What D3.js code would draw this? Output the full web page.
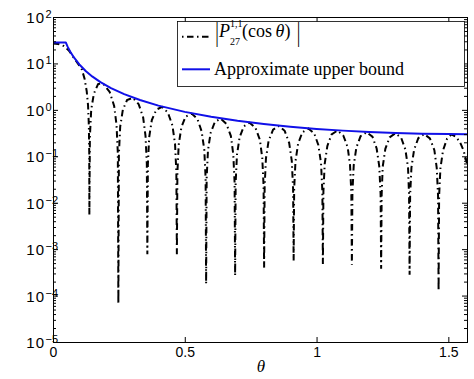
<!DOCTYPE html>
<html>
<head>
<meta charset="utf-8">
<style>
  body { margin: 0; background: #fff; }
  svg { display: block; }
  .sans { font-family: "Liberation Sans", Arial, Helvetica, sans-serif; }
  .serif { font-family: "Liberation Serif", "Times New Roman", Times, serif; }
</style>
</head>
<body>
<svg width="474" height="379"></svg>
<script src="https://d3js.org/d3.v7.min.js"></script>
<script>

// |P_27^{1,1}(cos theta)|, one lobe per line (zeros = spike bottoms)
var legendreTheta = [
  0, 0.02, 0.04, 0.06, 0.08, 0.1, 0.11, 0.12, 0.128, 0.133, 0.136, 0.1375,
  0.138,
  0.140, 0.145, 0.155, 0.171, 0.182, 0.193, 0.215, 0.232, 0.241, 0.246,
  0.248,
  0.250, 0.255, 0.265, 0.281, 0.303, 0.325, 0.342, 0.351, 0.356,
  0.358,
  0.360, 0.365, 0.375, 0.392, 0.414, 0.436, 0.453, 0.463, 0.468,
  0.470,
  0.472, 0.477, 0.487, 0.503, 0.526, 0.548, 0.564, 0.574, 0.579,
  0.581,
  0.583, 0.588, 0.598, 0.614, 0.636, 0.658, 0.675, 0.684, 0.689,
  0.691,
  0.693, 0.698, 0.708, 0.724, 0.746, 0.768, 0.785, 0.794, 0.799,
  0.801,
  0.803, 0.808, 0.818, 0.835, 0.857, 0.879, 0.896, 0.906, 0.911,
  0.913,
  0.915, 0.920, 0.930, 0.946, 0.969, 0.991, 1.007, 1.017, 1.022,
  1.024,
  1.026, 1.031, 1.041, 1.057, 1.079, 1.101, 1.118, 1.127, 1.132,
  1.134,
  1.136, 1.141, 1.151, 1.167, 1.190, 1.212, 1.228, 1.238, 1.243,
  1.245,
  1.247, 1.251, 1.261, 1.277, 1.299, 1.321, 1.337, 1.347, 1.351,
  1.353,
  1.355, 1.360, 1.370, 1.386, 1.408, 1.430, 1.447, 1.456, 1.461,
  1.463,
  1.465, 1.470, 1.480, 1.495, 1.512, 1.530, 1.545, 1.558, 1.5708
];
var legendreValue = [
  27, 26.2, 23.8, 19, 13, 9, 7.3, 4.6, 2.5, 1.25, 0.47, 0.12,
  5.4e-3,
  0.267, 1.01, 2.22, 3.6, 3.7, 3.52, 2.43, 1.22, 0.474, 0.116,
  6.7e-5,
  0.113, 0.437, 1.003, 1.63, 1.81, 1.325, 0.691, 0.275, 0.068,
  7.8e-4,
  0.0665, 0.26, 0.604, 1.012, 1.159, 0.871, 0.463, 0.186, 0.0459,
  7.8e-4,
  0.0453, 0.178, 0.42, 0.714, 0.831, 0.636, 0.343, 0.138, 0.0343,
  1.8e-4,
  0.034, 0.134, 0.318, 0.547, 0.646, 0.5, 0.272, 0.11, 0.0275,
  2.7e-4,
  0.0272, 0.1075, 0.256, 0.443, 0.529, 0.413, 0.226, 0.0918, 0.0229,
  4.0e-4,
  0.0228, 0.09, 0.215, 0.375, 0.449, 0.354, 0.195, 0.0793, 0.0198,
  5.6e-4,
  0.0197, 0.078, 0.187, 0.328, 0.395, 0.313, 0.173, 0.0706, 0.0177,
  4.8e-4,
  0.0176, 0.0696, 0.1675, 0.295, 0.357, 0.284, 0.1574, 0.0644, 0.0161,
  4.6e-4,
  0.0161, 0.0638, 0.1539, 0.271, 0.331, 0.264, 0.147, 0.0602, 0.0152,
  3.8e-4,
  0.0151, 0.0598, 0.1445, 0.2555, 0.313, 0.251, 0.14, 0.0575, 0.0144,
  2.8e-4,
  0.0144, 0.0571, 0.1384, 0.246, 0.302, 0.243, 0.1357, 0.0559, 0.014,
  1.26e-4,
  0.014, 0.0557, 0.1346, 0.2385, 0.296, 0.26, 0.196, 0.1325, 0.069
];

// approximate upper bound (blue)
var boundTheta = [0, 0.0485, 0.055, 0.065, 0.08, 0.1, 0.125, 0.15, 0.18, 0.22, 0.27, 0.33,
                  0.4, 0.5, 0.6, 0.7, 0.8, 0.9, 1.0, 1.1, 1.2, 1.3, 1.4, 1.5, 1.5708];
var boundValue = [28.3, 28.3, 23.3, 18.1, 13.3, 9.5, 6.81, 5.19, 3.96, 2.94, 2.18, 1.63,
                  1.235, 0.904, 0.707, 0.580, 0.494, 0.433, 0.389, 0.357, 0.333, 0.317, 0.307, 0.301, 0.300];

var xTicks = [0, 0.5, 1, 1.5];
var xTickLabels = ["0", "0.5", "1", "1.5"];
var yExponents = [-5, -4, -3, -2, -1, 0, 1, 2];
var boundLabel = "Approximate upper bound";

var svg = d3.select("svg"),
    width = +svg.attr("width"),
    height = +svg.attr("height"),
    margin = {top: 17, right: 7, bottom: 37, left: 53};

var x = d3.scaleLinear()
    .domain([0, Math.PI / 2])
    .range([margin.left, width - margin.right]);

var y = d3.scaleLog()
    .domain([1e-5, 1e2])
    .range([height - margin.bottom, margin.top]);

var majors = yExponents.map(function(e) { return Math.pow(10, e); });
var minors = [];
yExponents.slice(0, -1).forEach(function(e) {
  for (var k = 2; k < 10; k++) minors.push(k * Math.pow(10, e));
});

var line = d3.line()
    .x(function(d) { return x(d[0]); })
    .y(function(d) { return y(d[1]); });

// curves
svg.append("path")
    .datum(d3.zip(legendreTheta, legendreValue))
    .attr("fill", "none")
    .attr("stroke", "#000")
    .attr("stroke-width", 2)
    .attr("stroke-dasharray", "6.5,3.5,1.5,3.5")
    .attr("d", line);

svg.append("path")
    .datum(d3.zip(boundTheta, boundValue))
    .attr("fill", "none")
    .attr("stroke", "#1010e8")
    .attr("stroke-width", 2)
    .attr("stroke-linejoin", "round")
    .attr("d", line);

// axes, ticks inward on all four sides
function clean(g) {
  g.select(".domain").remove();
  g.attr("font-family", null).attr("font-size", null);
  g.selectAll(".tick line").attr("stroke", "#000");
}

svg.append("g")
    .attr("transform", "translate(0," + (height - margin.bottom) + ")")
    .call(d3.axisBottom(x).tickValues(xTicks).tickSize(-5).tickPadding(5)
      .tickFormat(function(d, i) { return xTickLabels[i]; }))
    .call(clean)
    .call(function(g) {
      g.selectAll("text").attr("class", "sans")
        .attr("font-size", 14).attr("fill", "#000");
    });

svg.append("g")
    .attr("transform", "translate(0," + margin.top + ")")
    .call(d3.axisTop(x).tickValues(xTicks).tickSize(-5).tickFormat(""))
    .call(clean);

[[d3.axisLeft, margin.left], [d3.axisRight, width - margin.right]].forEach(function(a) {
  svg.append("g")
      .attr("transform", "translate(" + a[1] + ",0)")
      .call(a[0](y).tickValues(majors).tickSize(-5).tickFormat(""))
      .call(clean);
  svg.append("g")
      .attr("transform", "translate(" + a[1] + ",0)")
      .call(a[0](y).tickValues(minors).tickSize(-3).tickFormat(""))
      .call(clean);
});

// y tick labels 10^e
var ylab = svg.append("g")
    .attr("class", "sans")
    .attr("fill", "#000");

yExponents.forEach(function(e) {
  var yy = y(Math.pow(10, e));
  ylab.append("text")
      .attr("x", 45)
      .attr("y", yy + 6)
      .attr("text-anchor", "end")
      .attr("font-size", 15)
      .attr("letter-spacing", 1)
      .text("10");
  ylab.append("text")
      .attr("x", 45.5)
      .attr("y", yy + 1)
      .attr("font-size", 11)
      .text(e < 0 ? "\u2212" + (-e) : String(e));
});

// frame
svg.append("rect")
    .attr("x", margin.left + 0.5)
    .attr("y", margin.top + 0.5)
    .attr("width", width - margin.left - margin.right)
    .attr("height", height - margin.top - margin.bottom)
    .attr("fill", "none")
    .attr("stroke", "#000");

// x label
svg.append("text")
    .attr("class", "serif")
    .attr("x", 261)
    .attr("y", 371.5)
    .attr("text-anchor", "middle")
    .attr("font-style", "italic")
    .attr("font-size", 17)
    .text("\u03b8");

// legend
var legend = svg.append("g")
    .attr("class", "serif")
    .attr("fill", "#000");

legend.append("rect")
    .attr("x", 177.5).attr("y", 21.5)
    .attr("width", 287).attr("height", 65)
    .attr("fill", "#fff")
    .attr("stroke", "#000")
    .attr("stroke-width", 0.8);

legend.append("line")
    .attr("x1", 182).attr("x2", 209).attr("y1", 36.7).attr("y2", 36.7)
    .attr("stroke", "#000").attr("stroke-width", 2)
    .attr("stroke-dasharray", "6.5,3.5,1.5,3.5")
    .attr("stroke-dashoffset", 10);

legend.append("line")
    .attr("x1", 182).attr("x2", 210).attr("y1", 69.3).attr("y2", 69.3)
    .attr("stroke", "#1010e8").attr("stroke-width", 2);

[217, 298.5].forEach(function(bx) {
  legend.append("text")
      .attr("transform", "translate(" + bx + ",40.8) scale(1,1.55)")
      .attr("font-size", 18)
      .attr("text-anchor", "middle")
      .text("|");
});

var eq = legend.append("text").attr("font-size", 18);
eq.append("tspan").attr("x", 219).attr("y", 37).attr("font-style", "italic").text("P");
eq.append("tspan").attr("x", 230).attr("y", 27).attr("font-size", 10).text("1,1");
eq.append("tspan").attr("x", 230).attr("y", 45).attr("font-size", 10).text("27");
eq.append("tspan").attr("x", 242).attr("y", 37).text("(cos\u2009");
eq.append("tspan").attr("font-style", "italic").text("\u03b8");
eq.append("tspan").text(")");

legend.append("text")
    .attr("x", 214)
    .attr("y", 75)
    .attr("font-size", 18)
    .text(boundLabel);

</script>
</body>
</html>
